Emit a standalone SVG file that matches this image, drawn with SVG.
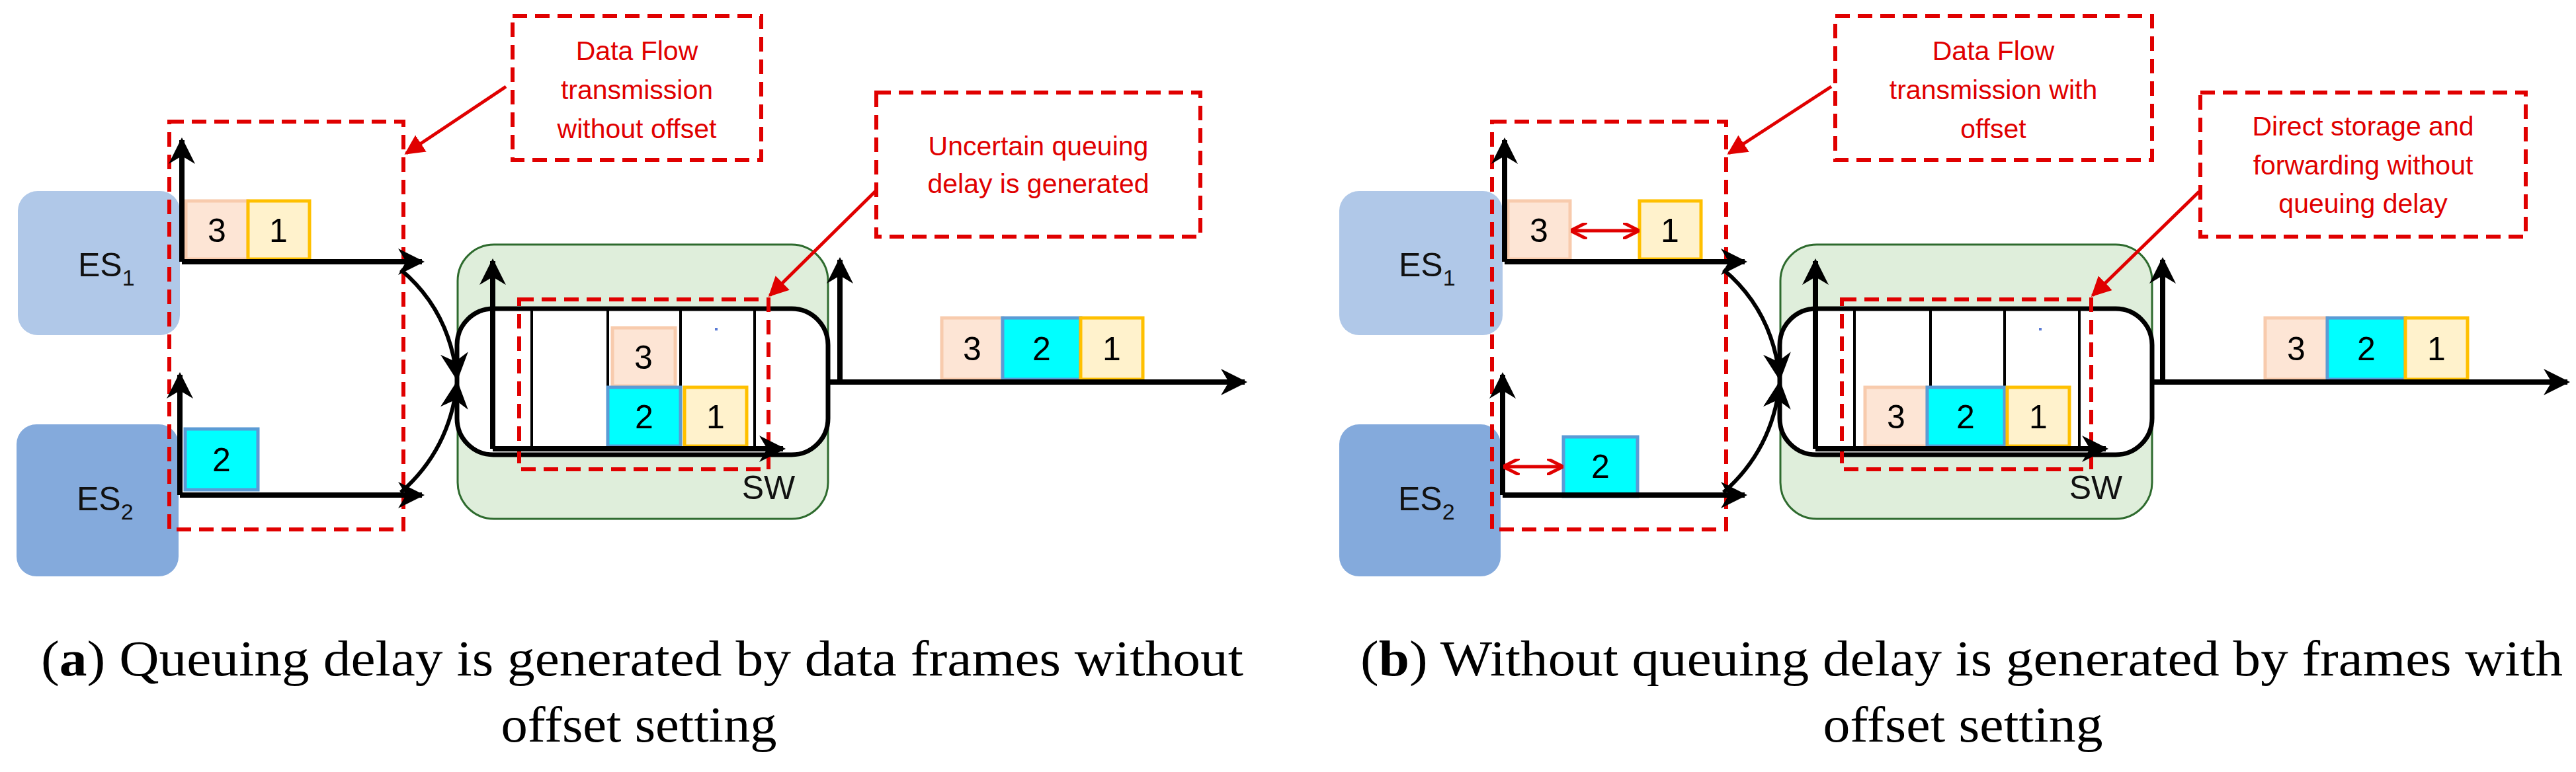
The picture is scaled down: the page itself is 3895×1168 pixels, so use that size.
<svg xmlns="http://www.w3.org/2000/svg" width="3895" height="1168" viewBox="0 0 3895 1168">
<style>
.es1{fill:#b0c8e8}
.es2{fill:#84aadc}
.lbl{font-family:"Liberation Sans",Arial,sans-serif;font-size:50px;fill:#111}
.sw{fill:#dfeedb;stroke:#2e6b2e;stroke-width:3}
.pill{fill:#fff;stroke:#000;stroke-width:7}
.ax{stroke:#000;stroke-width:8;fill:none}
.ax2{stroke:#000;stroke-width:6;fill:none}
.div{stroke:#000;stroke-width:4}
.rd{fill:none;stroke:#e00000;stroke-width:6;stroke-dasharray:22 12}
.f3{fill:#fde5d5;stroke:#f8cbad;stroke-width:5}
.f2{fill:#00ffff;stroke:#5b9bd5;stroke-width:5}
.f1{fill:#fff2cc;stroke:#ffc000;stroke-width:5}
.fn{font-family:"Liberation Sans",Arial,sans-serif;font-size:50px;fill:#000;text-anchor:middle}
.ct{font-family:"Liberation Sans",Arial,sans-serif;font-size:41px;fill:#e00000;text-anchor:middle}
.ra{stroke:#e00000;stroke-width:5;fill:none}
.cap{font-family:"Liberation Serif","Times New Roman",serif;font-size:76px;fill:#000}
</style>
<defs>
<marker id="ah" viewBox="0 0 10 10" refX="9" refY="5" markerWidth="5" markerHeight="5" orient="auto" markerUnits="strokeWidth"><path d="M0,0 L10,5 L0,10 L3,5 z" fill="#000"/></marker>
<marker id="ahs" viewBox="0 0 10 10" refX="9" refY="5" markerWidth="7" markerHeight="7" orient="auto" markerUnits="strokeWidth"><path d="M0,0 L10,5 L0,10 L3,5 z" fill="#000"/></marker>
<marker id="ra" viewBox="0 0 10 10" refX="9" refY="5" markerWidth="6" markerHeight="6" orient="auto" markerUnits="strokeWidth"><path d="M0,0 L10,5 L0,10 z" fill="#e00000"/></marker>
<marker id="rd2" viewBox="0 0 10 10" refX="9" refY="5" markerWidth="5" markerHeight="5" orient="auto-start-reverse" markerUnits="strokeWidth"><path d="M0,0 L10,5 L0,10" fill="none" stroke="#e00000" stroke-width="2"/></marker>
</defs>

<!-- ===== Panel A ===== -->
<g id="a-es1"><rect class="es1" x="27" y="289" width="245" height="218" rx="30"/><text class="lbl" x="118" y="418">ES<tspan font-size="34" dy="14">1</tspan></text></g>
<g id="a-es2"><rect class="es2" x="25" y="642" width="245" height="230" rx="30"/><text class="lbl" x="116" y="772">ES<tspan font-size="34" dy="14">2</tspan></text></g>
<g id="a-sw"><rect class="sw" x="692" y="370" width="560" height="415" rx="55"/><text class="lbl" x="1162" y="755" text-anchor="middle" font-size="56">SW</text>
<rect class="pill" x="691" y="467" width="561" height="221" rx="55"/>
<line class="div" x1="804" y1="470" x2="804" y2="679"/><line class="div" x1="919" y1="470" x2="919" y2="679"/><line class="div" x1="1029" y1="470" x2="1029" y2="679"/><line class="div" x1="1141" y1="470" x2="1141" y2="679"/>
<rect x="1081" y="496" width="4" height="4" fill="#5b7bd5"/></g>
<g id="a-frames">
<rect class="f3" x="281" y="304" width="94" height="88"/><text class="fn" x="328" y="366">3</text>
<rect class="f1" x="375" y="304" width="93" height="88"/><text class="fn" x="421" y="366">1</text>
<rect class="f2" x="280" y="649" width="110" height="92"/><text class="fn" x="335" y="713">2</text>
<rect class="f3" x="926" y="496" width="95" height="88"/><text class="fn" x="973" y="558">3</text>
<rect class="f2" x="919" y="586" width="110" height="89"/><text class="fn" x="974" y="648">2</text>
<rect class="f1" x="1035" y="586" width="94" height="89"/><text class="fn" x="1082" y="648">1</text>
<rect class="f3" x="1424" y="481" width="92" height="93"/><text class="fn" x="1470" y="545">3</text>
<rect class="f2" x="1516" y="481" width="118" height="93"/><text class="fn" x="1575" y="545">2</text>
<rect class="f1" x="1634" y="481" width="94" height="93"/><text class="fn" x="1681" y="545">1</text>
</g>
<g id="a-callout1"><rect class="rd" x="775" y="24" width="376" height="218"/><text class="ct" x="963" y="91">Data Flow</text><text class="ct" x="963" y="150">transmission</text><text class="ct" x="963" y="209">without offset</text></g>
<g id="a-callout2"><rect class="rd" x="1325" y="140" width="490" height="218"/><text class="ct" x="1570" y="235">Uncertain queuing</text><text class="ct" x="1570" y="292">delay is generated</text></g>
<g id="a-regions"><rect class="rd" x="256" y="184" width="354" height="617"/><rect class="rd" x="785" y="453" width="377" height="257"/></g>

<!-- ===== Panel B ===== -->
<g id="b-es1"><rect class="es1" x="2025" y="289" width="247" height="218" rx="30"/><text class="lbl" x="2115" y="418">ES<tspan font-size="34" dy="14">1</tspan></text></g>
<g id="b-es2"><rect class="es2" x="2025" y="642" width="244" height="230" rx="30"/><text class="lbl" x="2114" y="772">ES<tspan font-size="34" dy="14">2</tspan></text></g>
<g id="b-sw"><rect class="sw" x="2692" y="370" width="562" height="415" rx="55"/><text class="lbl" x="3169" y="755" text-anchor="middle" font-size="56">SW</text>
<rect class="pill" x="2691" y="467" width="563" height="221" rx="55"/>
<line class="div" x1="2804" y1="470" x2="2804" y2="679"/><line class="div" x1="2919" y1="470" x2="2919" y2="679"/><line class="div" x1="3031" y1="470" x2="3031" y2="679"/><line class="div" x1="3144" y1="470" x2="3144" y2="679"/>
<rect x="3083" y="496" width="4" height="4" fill="#5b7bd5"/></g>
<g id="b-frames">
<rect class="f3" x="2280" y="304" width="94" height="88"/><text class="fn" x="2327" y="366">3</text>
<rect class="f1" x="2479" y="304" width="93" height="88"/><text class="fn" x="2525" y="366">1</text>
<rect class="f2" x="2364" y="661" width="112" height="90"/><text class="fn" x="2420" y="723">2</text>
<rect class="f3" x="2820" y="586" width="94" height="89"/><text class="fn" x="2867" y="648">3</text>
<rect class="f2" x="2914" y="586" width="117" height="89"/><text class="fn" x="2972" y="648">2</text>
<rect class="f1" x="3035" y="586" width="94" height="89"/><text class="fn" x="3082" y="648">1</text>
<rect class="f3" x="3425" y="481" width="94" height="93"/><text class="fn" x="3472" y="545">3</text>
<rect class="f2" x="3519" y="481" width="118" height="93"/><text class="fn" x="3578" y="545">2</text>
<rect class="f1" x="3637" y="481" width="94" height="93"/><text class="fn" x="3684" y="545">1</text>
</g>
<g id="b-callout1"><rect class="rd" x="2775" y="24" width="479" height="218"/><text class="ct" x="3014" y="91">Data Flow</text><text class="ct" x="3014" y="150">transmission with</text><text class="ct" x="3014" y="209">offset</text></g>
<g id="b-callout2"><rect class="rd" x="3327" y="140" width="492" height="218"/><text class="ct" x="3573" y="205">Direct storage and</text><text class="ct" x="3573" y="264">forwarding without</text><text class="ct" x="3573" y="322">queuing delay</text></g>
<g id="b-regions"><rect class="rd" x="2256" y="184" width="354" height="617"/><rect class="rd" x="2785" y="453" width="377" height="257"/></g>

<!-- ===== Connectors ===== -->
<g id="connectors">
<path class="ax" d="M275,396 V212" marker-end="url(#ah)"/><path class="ax" d="M275,396 H638" marker-end="url(#ah)"/>
<path class="ax" d="M272,749 V567" marker-end="url(#ah)"/><path class="ax" d="M272,749 H638" marker-end="url(#ah)"/>
<path class="ax2" d="M606,408 Q680,470 691,572" marker-end="url(#ahs)"/>
<path class="ax2" d="M606,745 Q680,680 691,580" marker-end="url(#ahs)"/>
<path class="ax" d="M745,679 V395" marker-end="url(#ah)"/><path class="ax" d="M745,679 H1184" marker-end="url(#ah)"/>
<path class="ax" d="M1270,578 V393" marker-end="url(#ah)"/><path class="ax" d="M1252,578 H1882" marker-end="url(#ah)"/>
<path class="ra" d="M765,131 L614,232" marker-end="url(#ra)"/>
<path class="ra" d="M1325,288 L1164,447" marker-end="url(#ra)"/>

<path class="ax" d="M2275,396 V212" marker-end="url(#ah)"/><path class="ax" d="M2275,396 H2638" marker-end="url(#ah)"/>
<path class="ax" d="M2272,749 V567" marker-end="url(#ah)"/><path class="ax" d="M2272,749 H2638" marker-end="url(#ah)"/>
<path class="ax2" d="M2606,408 Q2680,470 2691,572" marker-end="url(#ahs)"/>
<path class="ax2" d="M2606,745 Q2680,680 2691,580" marker-end="url(#ahs)"/>
<path class="ax" d="M2745,679 V395" marker-end="url(#ah)"/><path class="ax" d="M2745,679 H3184" marker-end="url(#ah)"/>
<path class="ax" d="M3270,578 V393" marker-end="url(#ah)"/><path class="ax" d="M3254,578 H3882" marker-end="url(#ah)"/>
<path class="ra" d="M2769,131 L2614,232" marker-end="url(#ra)"/>
<path class="ra" d="M3325,290 L3164,447" marker-end="url(#ra)"/>
<path class="ra" d="M2377,349 H2476" marker-start="url(#rd2)" marker-end="url(#rd2)"/>
<path class="ra" d="M2275,706 H2361" marker-start="url(#rd2)" marker-end="url(#rd2)"/>
</g>

<g id="captions">
<text class="cap" x="62" y="1022" textLength="1818" lengthAdjust="spacingAndGlyphs">(<tspan font-weight="bold">a</tspan>) Queuing delay is generated by data frames without</text>
<text class="cap" x="966" y="1122" text-anchor="middle" textLength="417" lengthAdjust="spacingAndGlyphs">offset setting</text>
<text class="cap" x="2057" y="1022" textLength="1818" lengthAdjust="spacingAndGlyphs">(<tspan font-weight="bold">b</tspan>) Without queuing delay is generated by frames with</text>
<text class="cap" x="2968" y="1122" text-anchor="middle" textLength="423" lengthAdjust="spacingAndGlyphs">offset setting</text>
</g>
</svg>
